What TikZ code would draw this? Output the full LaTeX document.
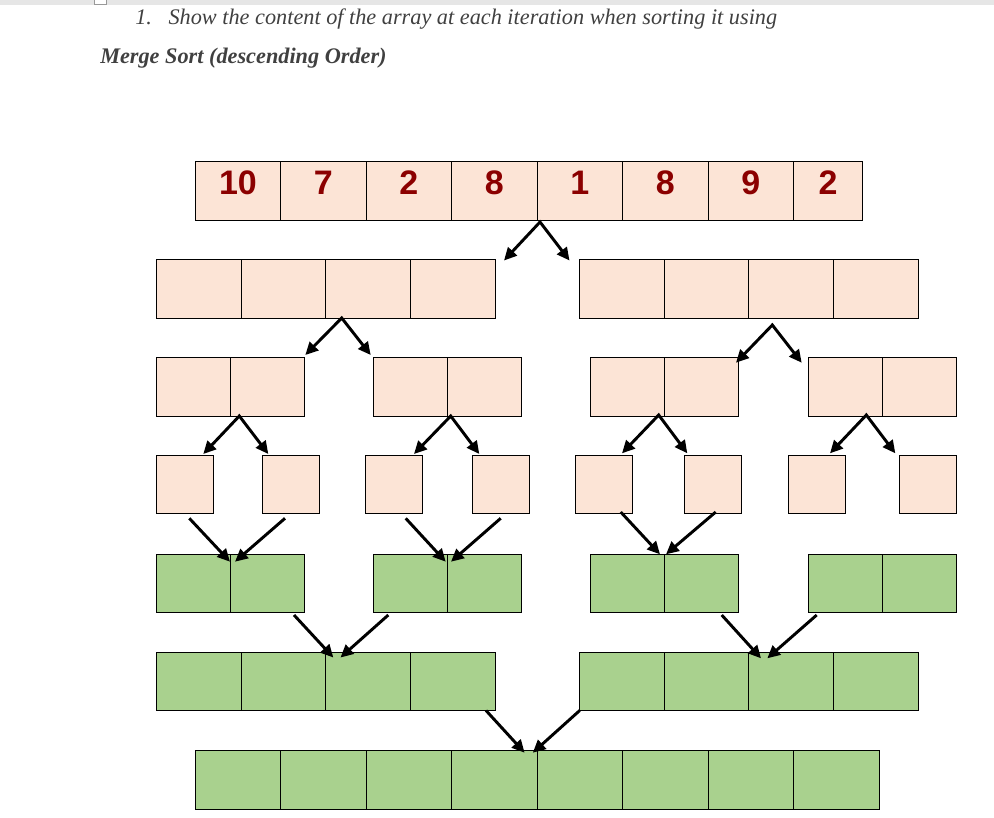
\documentclass[tikz,border=0pt]{standalone}
\usepackage{fontspec}
\setmainfont{Liberation Serif}
\newfontfamily\numfont{Liberation Sans}
\usetikzlibrary{arrows.meta}
\definecolor{peach}{RGB}{252,228,214}
\definecolor{leaf}{RGB}{169,209,142}
\definecolor{darkred}{RGB}{139,0,0}
\definecolor{ink}{RGB}{64,64,64}
\definecolor{band}{RGB}{230,230,230}
\begin{document}
\begin{tikzpicture}
[x=.75pt,y=-.75pt,>={Triangle[length=9.5pt,width=9pt]},
pc/.style={draw,fill=peach,line width=.75pt,inner sep=0pt,outer sep=0pt,minimum height=43.9pt,anchor=west},
gc/.style={pc,fill=leaf},w8/.style={minimum width=64.1pt},w4/.style={minimum width=63.6pt},
w2/.style={minimum width=55.5pt},w1/.style={minimum width=42.75pt},wl/.style={minimum width=51.6pt},
num/.style={text height=24.5pt,text depth=19.4pt,text=darkred,font=\numfont\bfseries\fontsize{25.5}{25.5}\selectfont},
hd/.style={anchor=base west,inner sep=0pt,text=ink,font=\fontsize{16.7}{20}\selectfont\itshape},
ar/.style={line width=2.2pt}]
\useasboundingbox (0,0) rectangle (994,817);
\fill[band](0,0) rectangle (994,4.7);
\draw[fill=white,draw=black!40,line width=.5pt](94.3,-1) rectangle (106.7,4.3);
\node(t1) at (135,24.3)[hd]{1.};\node(t2) at (168.3,24.3)[hd]{Show the content of the array at each iteration when sorting it using};
\node(t3) at (100,63.3)[hd,font=\fontsize{16.7}{20}\selectfont\bfseries\itshape]{Merge Sort (descending Order)};
% unsorted array
\node(a1) at (195.2,191)[pc,w8,num]{10};\node(a2) at (280.7,191)[pc,w8,num]{7};\node(a3) at (366.2,191)[pc,w8,num]{2};
\node(a4) at (451.7,191)[pc,w8,num]{8};\node(a5) at (537.2,191)[pc,w8,num]{1};\node(a6) at (622.7,191)[pc,w8,num]{8};
\node(a7) at (708.2,191)[pc,w8,num]{9};\node(a8) at (793.7,191)[pc,wl,num]{2};
% split
\node(b1) at (156.3,288.8)[pc,w4]{};\node(b2) at (241.1,288.8)[pc,w4]{};\node(b3) at (325.9,288.8)[pc,w4]{};\node(b4) at (410.7,288.8)[pc,w4]{};
\node(b5) at (579.3,288.8)[pc,w4]{};\node(b6) at (664.1,288.8)[pc,w4]{};\node(b7) at (748.9,288.8)[pc,w4]{};\node(b8) at (833.7,288.8)[pc,w4]{};
\node(c1) at (156.3,386.8)[pc,w2]{};\node(c2) at (230.3,386.8)[pc,w2]{};\node(c3) at (373.3,386.8)[pc,w2]{};\node(c4) at (447.3,386.8)[pc,w2]{};
\node(c5) at (590.3,386.8)[pc,w2]{};\node(c6) at (664.3,386.8)[pc,w2]{};\node(c7) at (808.5,386.8)[pc,w2]{};\node(c8) at (882.5,386.8)[pc,w2]{};
\node(d1) at (156.3,484.7)[pc,w1]{};\node(d2) at (262.3,484.7)[pc,w1]{};\node(d3) at (365.3,484.7)[pc,w1]{};\node(d4) at (472.3,484.7)[pc,w1]{};
\node(d5) at (575.3,484.7)[pc,w1]{};\node(d6) at (684.3,484.7)[pc,w1]{};\node(d7) at (788.3,484.7)[pc,w1]{};\node(d8) at (899.3,484.7)[pc,w1]{};
% merge
\node(e1) at (156.3,583.3)[gc,w2]{};\node(e2) at (230.3,583.3)[gc,w2]{};\node(e3) at (373.3,583.3)[gc,w2]{};\node(e4) at (447.3,583.3)[gc,w2]{};
\node(e5) at (590.3,583.3)[gc,w2]{};\node(e6) at (664.3,583.3)[gc,w2]{};\node(e7) at (808.5,583.3)[gc,w2]{};\node(e8) at (882.5,583.3)[gc,w2]{};
\node(f1) at (156.3,681.5)[gc,w4]{};\node(f2) at (241.1,681.5)[gc,w4]{};\node(f3) at (325.9,681.5)[gc,w4]{};\node(f4) at (410.7,681.5)[gc,w4]{};
\node(f5) at (579.3,681.5)[gc,w4]{};\node(f6) at (664.1,681.5)[gc,w4]{};\node(f7) at (748.9,681.5)[gc,w4]{};\node(f8) at (833.7,681.5)[gc,w4]{};
\node(g1) at (195.4,779.9)[gc,w8]{};\node(g2) at (280.9,779.9)[gc,w8]{};\node(g3) at (366.4,779.9)[gc,w8]{};\node(g4) at (451.9,779.9)[gc,w8]{};
\node(g5) at (537.4,779.9)[gc,w8]{};\node(g6) at (622.9,779.9)[gc,w8]{};\node(g7) at (708.4,779.9)[gc,w8]{};\node(g8) at (793.9,779.9)[gc,w8]{};
% arrows
\coordinate(s1) at (540,222);\coordinate(s1l) at (504,260.5);\coordinate(s1r) at (569.5,260.5);
\coordinate(s2) at (341.7,318);\coordinate(s2l) at (305.3,355);\coordinate(s2r) at (370.7,355);
\coordinate(s3) at (772.3,325);\coordinate(s3l) at (736,362.7);\coordinate(s3r) at (801.7,362.7);
\coordinate(s4) at (239.3,416);\coordinate(s4l) at (203.3,454);\coordinate(s4r) at (268.3,454);
\coordinate(s5) at (450.7,416);\coordinate(s5l) at (414,454);\coordinate(s5r) at (479.3,454);
\coordinate(s6) at (658.7,415);\coordinate(s6l) at (622,453.3);\coordinate(s6r) at (687.3,453.3);
\coordinate(s7) at (866.3,415);\coordinate(s7l) at (830,453.3);\coordinate(s7r) at (895.3,453.3);
\draw[ar,<->](s1l)--(s1)--(s1r);\draw[ar,<->](s2l)--(s2)--(s2r);\draw[ar,<->](s3l)--(s3)--(s3r);
\draw[ar,<->](s4l)--(s4)--(s4r);\draw[ar,<->](s5l)--(s5)--(s5r);\draw[ar,<->](s6l)--(s6)--(s6r);\draw[ar,<->](s7l)--(s7)--(s7r);
\coordinate(m1a) at (189.3,518.3);\coordinate(m1b) at (230,561.7);\coordinate(m2a) at (285,518.3);\coordinate(m2b) at (235,561.7);
\coordinate(m3a) at (405.7,518.3);\coordinate(m3b) at (445.7,561.7);\coordinate(m4a) at (500.7,518.3);\coordinate(m4b) at (451,561.7);
\coordinate(m5a) at (620.7,512);\coordinate(m5b) at (660,554.3);\coordinate(m6a) at (715.7,512);\coordinate(m6b) at (666,554.3);
\coordinate(m7a) at (294,615);\coordinate(m7b) at (333.3,657.5);\coordinate(m8a) at (388.3,615);\coordinate(m8b) at (340.5,657.5);
\coordinate(m9a) at (721.7,615);\coordinate(m9b) at (761,658.3);\coordinate(m10a) at (816.7,615);\coordinate(m10b) at (767.3,658.3);
\coordinate(m11a) at (486,710.5);\coordinate(m11b) at (524.6,752.7);\coordinate(m12a) at (579.7,710.5);\coordinate(m12b) at (532.8,752.7);
\draw[ar,->](m1a)--(m1b);\draw[ar,->](m2a)--(m2b);\draw[ar,->](m3a)--(m3b);\draw[ar,->](m4a)--(m4b);
\draw[ar,->](m5a)--(m5b);\draw[ar,->](m6a)--(m6b);\draw[ar,->](m7a)--(m7b);\draw[ar,->](m8a)--(m8b);
\draw[ar,->](m9a)--(m9b);\draw[ar,->](m10a)--(m10b);\draw[ar,->](m11a)--(m11b);\draw[ar,->](m12a)--(m12b);
\end{tikzpicture}
\end{document}
